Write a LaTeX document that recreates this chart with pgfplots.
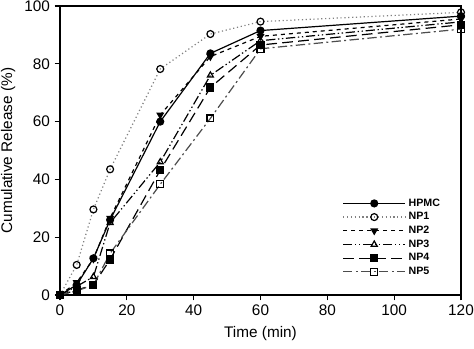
\documentclass[border=0pt]{standalone}
\usepackage{pgfplots}
\pgfplotsset{compat=1.18}
\usepackage{fontspec}
\setmainfont{Liberation Sans}
\begin{document}
\begin{tikzpicture}
\begin{axis}[
  width=300.75pt, height=216.75pt, scale only axis,
  xmin=0, xmax=120, ymin=0, ymax=100,
  xtick={0,20,...,120}, ytick={0,20,...,100},
  tick align=outside, tick pos=left,
  major tick length=4pt,
  /pgf/number format/assume math mode=true,
  tick label style={font=\fontsize{11.5}{13}\selectfont},
  label style={font=\fontsize{11.5}{13}\selectfont},
  xlabel={Time (min)}, ylabel={Cumulative Release (\%)},
  xlabel style={yshift=-1pt},
  ylabel style={yshift=0pt},
  axis line style={line width=0.9pt},
  every tick/.style={black, line width=0.8pt},
  clip=false,
  legend style={draw=none, fill=none, at={(0.965,0.045)}, anchor=south east,
     font=\fontsize{8}{9}\selectfont\bfseries, row sep=-0.8pt},
  legend cell align=left,
  legend image code/.code={\draw[mark repeat=2,mark phase=2] plot coordinates {(0cm,0cm)(0.82cm,0cm)(1.64cm,0cm)};},
  every axis plot/.append style={line width=0.9pt, mark size=2.6pt},
]
\addplot[black, solid, mark=*, mark options={solid}] coordinates {(0,0)(5,3.5)(10,12.7)(15,26)(30,60)(45,83.6)(60,91.5)(120,96.5)};
\addlegendentry{HPMC}
\addplot[gray, dotted, mark=o, mark options={solid, black}] coordinates {(0,0)(5,10.4)(10,29.6)(15,43.5)(30,78.2)(45,90.3)(60,94.6)(120,97.8)};
\addlegendentry{NP1}
\addplot[black, dashed, mark=triangle*, mark options={solid, rotate=180}] coordinates {(0,0)(5,4.3)(10,12.5)(15,26.6)(30,62.3)(45,82.5)(60,89.5)(120,95.5)};
\addlegendentry{NP2}
\addplot[black, dash pattern=on 7pt off 2pt on 1pt off 2pt on 1pt off 2pt, mark=triangle, mark options={solid, fill=white}] coordinates {(0,0)(5,3)(10,6.3)(15,25)(30,46)(45,76)(60,88)(120,94.5)};
\addlegendentry{NP3}
\addplot[black, dash pattern=on 8pt off 4pt, mark=square*, mark options={solid}] coordinates {(0,0)(5,1.7)(10,3.5)(15,12.3)(30,43.2)(45,71.8)(60,86.5)(120,93.5)};
\addlegendentry{NP4}
\addplot[black!70, dash pattern=on 7pt off 2.5pt on 1.5pt off 2.5pt, mark=square, mark options={solid, black, fill=white}] coordinates {(0,0)(5,1.4)(10,3.5)(15,14.4)(30,38.3)(45,61.1)(60,85.2)(120,92)};
\addlegendentry{NP5}
\end{axis}
\pgfresetboundingbox
\path ([xshift=-45pt,yshift=-40.5pt]current axis.south west) rectangle ([xshift=9.75pt,yshift=4.5pt]current axis.north east);
\end{tikzpicture}
\end{document}
